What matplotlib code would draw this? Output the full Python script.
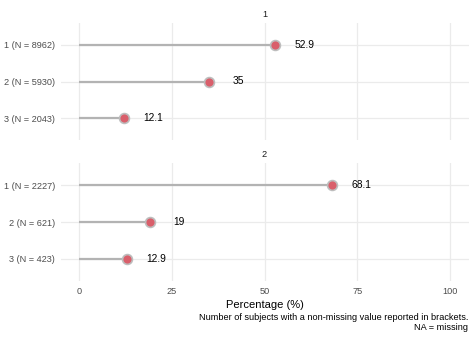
import matplotlib
matplotlib.use("Agg")
import matplotlib.pyplot as plt

plt.rcParams["font.family"] = ["Liberation Sans", "DejaVu Sans"]

panels = ["1", "2"]
cats_1 = ["1 (N = 8962)", "2 (N = 5930)", "3 (N = 2043)"]
vals_1 = [52.9, 35, 12.1]
labels_1 = ["52.9", "35", "12.1"]
cats_2 = ["1 (N = 2227)", "2 (N = 621)", "3 (N = 423)"]
vals_2 = [68.1, 19, 12.9]
labels_2 = ["68.1", "19", "12.9"]
xticks = [0, 25, 50, 75, 100]

W, H = 474, 338
fig = plt.figure(figsize=(W / 100, H / 100), dpi=100)

def frac(x0, y0, x1, y1):
    return [x0 / W, 1 - y1 / H, (x1 - x0) / W, (y1 - y0) / H]

panel_boxes = [frac(60.5, 23, 468.5, 140), frac(60.5, 163, 468.5, 281)]
data = [(cats_1, vals_1, labels_1), (cats_2, vals_2, labels_2)]
grid_c = "#EBEBEB"

for i, (box, (cats, vals, labs)) in enumerate(zip(panel_boxes, data)):
    ax = fig.add_axes(box)
    ys = list(range(len(cats)))
    ax.set_xlim(-5, 105)
    ax.set_ylim(len(cats) - 1 + 0.6, -0.6)
    for s in ax.spines.values():
        s.set_visible(False)
    ax.set_xticks(xticks)
    ax.set_yticks(ys)
    ax.set_yticklabels(cats)
    ax.grid(True, color=grid_c, linewidth=0.9)
    ax.set_axisbelow(True)
    ax.tick_params(length=0, colors="#4D4D4D", labelsize=6.6, pad=4)
    if i == 0:
        ax.set_xticklabels([])
    else:
        ax.set_xticklabels([str(t) for t in xticks])
        ax.set_xlabel("Percentage (%)", fontsize=8, color="black", labelpad=3)
    ax.hlines(ys, 0, vals, color="#B3B3B3", linewidth=1.6, zorder=2)
    ax.scatter(vals, ys, s=50, color="#D95F6B", edgecolor="#BDBDBD", linewidth=1.2, zorder=3)
    for y, v, t in zip(ys, vals, labs):
        ax.text(v + 8, y, t, ha="center", va="center", fontsize=7.4, color="black")
    ax.set_title(panels[i], fontsize=6.6, color="#1A1A1A", pad=4)

fig.text(468 / W, 1 - 318 / H, "Number of subjects with a non-missing value reported in brackets.",
         ha="right", va="center", fontsize=6.6, color="black")
fig.text(468 / W, 1 - 328 / H, "NA = missing", ha="right", va="center", fontsize=6.6, color="black")

fig.savefig("out.png", dpi=100, facecolor="white")
